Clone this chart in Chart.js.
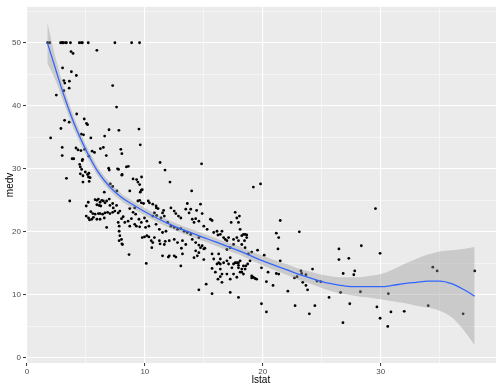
<!DOCTYPE html>
<html>
<head>
<meta charset="utf-8">
<script src="https://cdn.jsdelivr.net/npm/chart.js@4"></script>
<style>
  html, body { margin: 0; padding: 0; background: #fff; }
  #wrap { width: 500px; height: 386px; }
</style>
</head>
<body>
<div id="wrap"><canvas id="scatter" width="500" height="386"></canvas></div>
<script>
// scatter points (lstat, medv)
const lstat = [
  1.76,1.93,2.85,3.02,3.1,3.27,3.35,3.69,4.44,4.61,4.7,5.2,7.46,8.88,9.55,2.97,
  5.93,3.74,3.91,3.02,3.77,4.19,3.13,3.21,3.6,3.58,3.13,7.27,2.49,7.6,4.22,3.19,3.58,4.86,5.05,5.14,
  2.88,6.96,7.8,9.5,2.01,2.99,2.99,4.16,4.33,4.58,4.89,3.83,3.97,4.72,5.53,5.73,6.23,6.48,6.73,7.96,
  8.05,8.44,4.53,4.64,4.47,6.93,6.98,7.68,4.95,5.14,4.53,4.75,3.35,5.36,8.05,4.61,4.8,5.42,6.59,3.63,
  4.69,4.75,5.25,5.22,5.28,5.25,9.61,11.29,11.71,9.72,9.3,9.41,7.07,7.27,6.56,7.63,9.78,9.61,10.29,
  10.98,11.12,11.59,8.6,7.77,8.07,
  5.03,5.2,5.78,5.93,6.06,6.2,6.35,6.48,6.62,5.93,6.12,6.26,6.76,6.98,7.04,7.27,5.42,5.59,5.78,6.06,
  6.2,6.42,6.62,6.84,7.04,7.27,7.46,5.03,5.22,5.64,5.93,6.2,6.56,5.31,5.5,7.32,7.6,7.74,7.88,8.02,
  8.16,7.74,7.82,6.76,8.3,8.58,8.72,8.86,7.82,7.88,8.02,8.1,8.72,9.0,9.22,9.14,9.41,9.56,9.7,9.89,
  9.5,9.7,9.28,9.14,9.56,9.97,10.17,10.06,10.34,9.78,9.97,10.17,10.34,10.54,10.59,10.12,8.66,9.56,
  9.7,8.72,9.0,10.39,10.67,10.95,10.81,11.0,10.67,
  12.13,13.97,11.5,11.37,11.65,12.21,12.49,12.63,12.85,13.05,13.47,13.6,13.75,13.89,14.39,14.72,
  14.86,15.0,14.02,14.31,14.58,14.17,11.93,12.21,12.49,12.77,13.05,13.33,13.6,13.89,10.95,11.23,
  11.5,11.79,10.81,10.67,11.23,11.65,12.07,12.49,12.77,13.19,13.47,11.5,12.07,12.49,13.05,13.19,
  14.02,14.31,14.58,14.86,15.0,14.58,14.45,14.17,15.28,15.56,15.84,16.12,16.4,16.68,16.96,15.7,
  15.84,16.26,16.4,16.54,17.1,17.38,17.66,17.94,18.22,18.5,17.32,17.8,17.94,17.66,18.08,18.36,
  17.8,17.94,18.22,18.5,17.52,
  14.81,19.2,19.81,18.02,15.7,21.48,23.1,21.15,21.35,16.54,16.2,16.82,17.1,17.52,18.5,18.64,17.24,16.96,
  21.29,21.48,18.22,18.64,18.45,18.78,19.06,18.92,18.72,18.36,18.22,18.08,17.94,18.36,19.2,19.48,
  19.06,19.89,20.12,19.56,17.94,19.89,20.31,20.87,20.45,21.15,21.35,22.13,22.69,22.91,23.24,23.3,
  23.66,23.39,23.66,23.8,24.22,24.59,24.92,22.74,24.42,25.62,
  12.63,13.1,14.58,15.7,15.2,17.24,14.31,15.0,14.72,15.09,14.58,15.7,15.98,16.4,16.2,16.54,16.96,
  17.24,17.52,17.8,18.56,19.06,19.34,16.26,16.4,16.68,16.96,17.24,17.52,17.8,17.94,18.08,16.4,16.12,
  20.31,23.95,
  26.46,28.36,26.46,27.3,26.82,27.8,27.72,29.95,26.6,28.28,27.38,26.8,29.68,29.95,30.6,30.87,32.0,
  30.65,34.03,34.42,34.79,36.99,37.97,29.56,
  7.82,8.05,11.29,11.73,11.99
];
const medv = [
  50,50,50,50,50,50,50,50,50,50,50,50,50,50,50,50,
  48.8,48.6,48.3,46.0,45.4,44.8,44.0,43.6,43.9,42.8,42.4,43.2,41.7,39.8,38.7,37.7,37.4,37.9,37.2,37.0,
  36.4,36.2,36.1,36.3,34.9,33.4,32.1,33.3,33.0,32.9,33.1,31.6,31.6,31.5,32.8,32.6,33.2,33.4,32.1,33.1,
  32.4,30.3,30.3,29.9,30.7,30.1,29.8,30.0,29.5,29.1,29.2,28.9,28.5,28.6,29.0,35.5,35.4,34.9,35.2,24.9,
  31.3,27.9,29.3,28.7,28.0,32.0,33.8,31.0,29.8,28.7,28.3,27.9,27.6,27.2,26.3,26.5,26.7,26.3,24.9,
  23.8,23.7,23.4,30.4,29.9,29.1,
  24.1,24.7,25.1,25.0,25.2,24.7,25.0,24.9,24.6,24.3,24.2,24.1,24.9,25.2,24.2,24.5,23.2,22.9,22.8,22.9,
  22.9,22.8,23.0,23.1,22.9,23.1,23.3,22.5,22.2,22.3,22.0,22.0,22.2,21.9,22.0,23.8,24.2,23.0,23.3,22.1,
  22.4,21.5,20.9,20.7,21.5,21.7,20.9,22.1,20.1,19.4,18.8,18.0,23.7,23.1,22.8,23.8,24.9,25.0,24.6,24.5,
  22.0,21.5,20.9,21.2,20.8,22.2,21.7,20.7,20.9,19.1,19.2,19.4,19.2,18.6,17.5,15.0,16.4,27.5,
  26.6,26.5,28.4,24.6,24.4,24.1,23.0,22.6,22.5,
  27.9,26.5,23.0,22.2,22.5,23.8,23.3,22.9,22.5,22.2,23.6,24.5,23.0,23.6,23.4,24.4,
  22.9,20.9,22.0,22.1,21.7,21.5,21.5,20.9,20.7,20.4,20.5,20.1,19.9,19.6,21.2,20.4,
  19.9,20.1,19.1,18.3,18.6,18.0,18.6,18.8,18.3,18.6,18.0,16.2,16.2,16.2,14.6,16.5,
  18.8,18.3,19.1,17.8,17.3,16.7,16.2,15.9,20.4,22.0,19.9,20.1,19.6,19.1,18.6,16.5,
  15.7,15.1,14.1,13.3,14.9,14.3,15.1,14.7,13.6,14.1,21.5,22.2,21.5,23.1,20.4,19.6,
  19.1,18.6,18.0,17.5,18.0,
  30.8,27.1,27.6,22.5,21.8,21.8,20.0,19.8,19.1,20.1,19.5,18.8,19.1,18.8,19.6,19.1,17.5,17.2,
  17.3,15.4,19.4,19.5,18.6,16.5,16.8,15.4,14.9,14.6,14.1,13.6,15.1,13.3,12.8,12.5,
  12.7,14.3,16.3,17.1,9.6,8.6,12.1,11.5,13.6,13.4,13.3,10.6,12.7,12.9,13.8,13.4,
  13.2,12.0,11.5,10.8,14.1,12.2,12.1,8.3,8.3,9.6,
  16.0,17.4,10.8,10.2,11.7,10.4,17.0,15.6,17.5,17.4,17.9,14.2,13.6,12.9,12.5,12.0,13.3,
  12.5,13.3,12.8,14.6,13.0,12.6,16.5,15.7,15.1,15.4,15.9,14.9,15.1,14.3,15.4,14.9,14.9,
  7.3,7.0,
  17.3,17.8,15.6,15.8,13.4,13.8,13.2,16.6,10.4,10.5,8.6,5.6,8.1,6.3,5.0,7.3,7.4,
  10.2,8.3,14.4,13.8,7.0,13.8,23.7,
  18.6,18.1,18.1,18.5,16.0
];

// loess smooth and its confidence band
const fitLstat = [1.73,2,2.5,3,3.5,4,4.5,5,5.5,6,7,8,9,10,11,12,13,14,15,16,17,18,19,20,21,22,23,24,25,26,27,28,29,30,31,32,33,34,35,36,37,37.97];
const fitMedv  = [50.0,48.4,45.4,42.4,39.7,37.2,35.0,33.0,31.2,29.6,27.2,25.5,24.3,23.2,22.2,21.3,20.5,19.8,19.1,18.4,17.7,17.0,16.2,15.4,14.7,14.0,13.3,12.7,12.1,11.7,11.4,11.3,11.3,11.3,11.5,11.8,12.0,12.2,12.2,11.8,10.9,9.8];
const fitUpper = [53.3,51.0,47.1,43.7,40.8,38.2,35.9,33.8,32.0,30.3,27.9,26.1,24.9,23.8,22.8,21.9,21.1,20.4,19.7,19.0,18.3,17.7,16.9,16.2,15.5,14.9,14.2,13.7,13.2,12.9,12.8,12.8,13.0,13.3,14.0,14.9,15.7,16.4,16.9,17.1,17.3,17.6];
const fitLower = [46.7,45.8,43.7,41.1,38.6,36.2,34.1,32.2,30.5,28.9,26.6,24.9,23.7,22.6,21.6,20.7,19.9,19.2,18.5,17.8,17.1,16.4,15.5,14.7,13.9,13.2,12.4,11.8,11.1,10.5,10.1,9.8,9.6,9.3,9.0,8.7,8.3,8.0,7.5,6.5,4.5,2.0];

const xTicks = [0, 5, 10, 15, 20, 25, 30, 35];
const yTicks = [0, 5, 10, 15, 20, 25, 30, 35, 40, 45, 50, 55];

function pairs(xs, ys) {
    return xs.map((x, i) => ({ x: x, y: ys[i] }));
}

// grey panel behind the grid, like ggplot
const panelBg = {
    id: 'panelBg',
    beforeDraw(chart) {
        const a = chart.chartArea;
        const c = chart.ctx;
        c.save();
        c.fillStyle = '#EBEBEB';
        c.fillRect(a.left, a.top, a.right - a.left, a.bottom - a.top);
        c.restore();
    }
};

function isMajor(ctx) {
    return ctx.tick && ctx.tick.value % 10 === 0;
}

const gridOpts = {
    color: '#FFFFFF',
    lineWidth: ctx => isMajor(ctx) ? 1.1 : 0.5,
    drawTicks: true,
    tickLength: 3,
    tickColor: ctx => isMajor(ctx) ? '#333333' : 'rgba(0,0,0,0)',
    tickWidth: 1
};

const ctx = document.getElementById('scatter').getContext('2d');
const chart = new Chart(ctx, {
    type: 'line',
    data: {
        datasets: [{
            label: 'loess',
            data: pairs(fitLstat, fitMedv),
            borderColor: '#3366FF',
            borderWidth: 1.3,
            pointRadius: 0,
            fill: false,
            cubicInterpolationMode: 'monotone'
        }, {
            label: 'upper',
            data: pairs(fitLstat, fitUpper),
            borderWidth: 0,
            borderColor: 'rgba(0,0,0,0)',
            backgroundColor: 'rgba(153,153,153,0.4)',
            pointRadius: 0,
            fill: '+1',
            cubicInterpolationMode: 'monotone'
        }, {
            label: 'lower',
            data: pairs(fitLstat, fitLower),
            borderWidth: 0,
            borderColor: 'rgba(0,0,0,0)',
            pointRadius: 0,
            fill: false,
            cubicInterpolationMode: 'monotone'
        }, {
            label: 'points',
            data: pairs(lstat, medv),
            showLine: false,
            pointRadius: 1.4,
            pointBorderWidth: 0,
            pointBackgroundColor: '#000000',
            borderColor: '#000000'
        }]
    },
    options: {
        responsive: false,
        animation: false,
        layout: { padding: { top: 5, right: 3, left: 0, bottom: 0 } },
        plugins: {
            legend: { display: false },
            tooltip: { enabled: false }
        },
        scales: {
            x: {
                type: 'linear',
                min: -0.08,
                max: 39.78,
                afterBuildTicks: s => { s.ticks = xTicks.map(v => ({ value: v })); },
                afterFit: s => { s.height = 23; },
                grid: gridOpts,
                border: { display: false },
                ticks: {
                    autoSkip: false,
                    maxRotation: 0,
                    padding: 1,
                    color: '#4D4D4D',
                    font: { family: 'Liberation Sans, Arial, sans-serif', size: 8 },
                    callback: v => v % 10 === 0 ? v : ''
                },
                title: {
                    display: true,
                    text: 'lstat',
                    color: '#000000',
                    font: { family: 'Liberation Sans, Arial, sans-serif', size: 10 },
                    padding: { top: 0, bottom: 0 }
                }
            },
            y: {
                type: 'linear',
                min: -0.8,
                max: 55.7,
                afterBuildTicks: s => { s.ticks = yTicks.map(v => ({ value: v })); },
                afterFit: s => { s.width = 26; },
                grid: gridOpts,
                border: { display: false },
                ticks: {
                    autoSkip: false,
                    padding: 2,
                    color: '#4D4D4D',
                    font: { family: 'Liberation Sans, Arial, sans-serif', size: 8 },
                    callback: v => v % 10 === 0 ? v : ''
                },
                title: {
                    display: true,
                    text: 'medv',
                    color: '#000000',
                    font: { family: 'Liberation Sans, Arial, sans-serif', size: 10 },
                    padding: { top: 4, bottom: 0 }
                }
            }
        }
    },
    plugins: [panelBg]
});
</script>
</body>
</html>
